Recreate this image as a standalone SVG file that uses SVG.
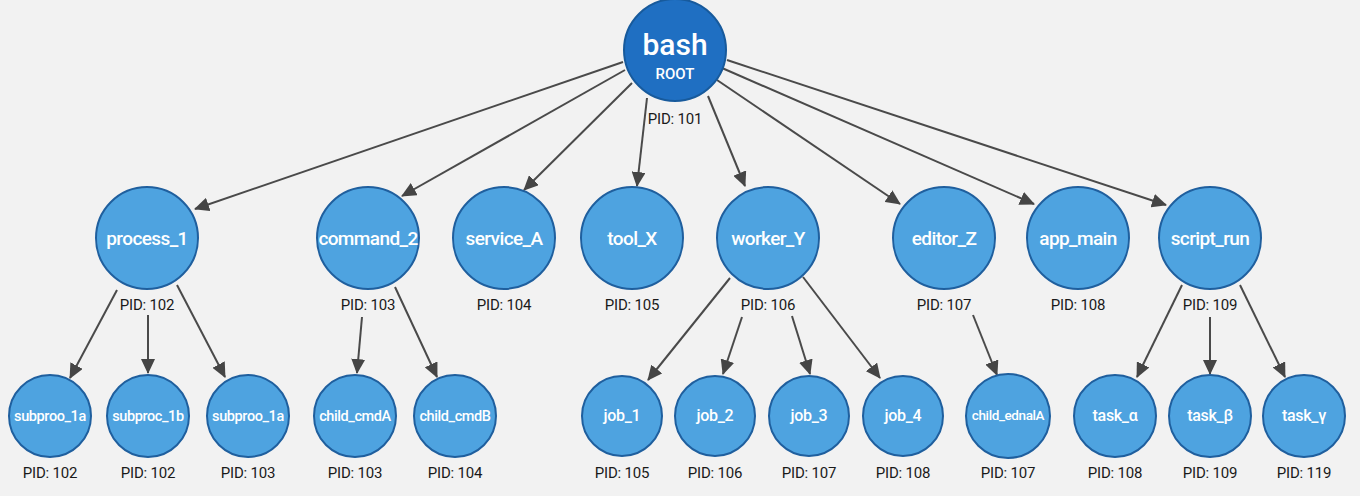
<svg xmlns="http://www.w3.org/2000/svg" width="1360" height="496" viewBox="0 0 1360 496">
<defs>
<marker id="arr" markerUnits="userSpaceOnUse" markerWidth="16" markerHeight="14" refX="14" refY="7" orient="auto">
<path d="M0,0 L15,7 L0,14 z" fill="#454545"/>
</marker>
<style>
.n circle{fill:#4ea3e0;stroke:#1f5f9e;stroke-width:2}
.root circle{fill:#1f6fc2;stroke:#175a9c;stroke-width:2}
.lbl{font-family:Roboto,"Liberation Sans",sans-serif;font-weight:500;fill:#fff;text-anchor:middle}
.l2{font-size:19px;letter-spacing:-0.6px}
.l3{font-size:14.5px;letter-spacing:-0.4px}
.l4{font-size:16px;letter-spacing:-0.3px}
.pid{font-family:Roboto,"Liberation Sans",sans-serif;font-size:15px;fill:#1a1a1a;text-anchor:middle;letter-spacing:-0.2px}
#edges line{stroke:#4a4a4a;stroke-width:2;marker-end:url(#arr)}
</style>
</defs>
<rect width="1360" height="496" fill="#f2f2f2"/>
<g id="edges">
<line x1="623" y1="62" x2="195" y2="209"/>
<line x1="625" y1="70" x2="402" y2="196"/>
<line x1="632" y1="83" x2="524" y2="190"/>
<line x1="647" y1="98" x2="637" y2="186"/>
<line x1="708" y1="96" x2="745" y2="186"/>
<line x1="717" y1="80" x2="900" y2="204"/>
<line x1="722" y1="68" x2="1034" y2="204"/>
<line x1="727" y1="60" x2="1166" y2="205"/>
<line x1="117" y1="290" x2="70" y2="378"/>
<line x1="148" y1="315" x2="148" y2="373"/>
<line x1="177" y1="285" x2="225" y2="377"/>
<line x1="362" y1="317" x2="357" y2="373"/>
<line x1="395" y1="287" x2="437" y2="377"/>
<line x1="730" y1="278" x2="648" y2="380"/>
<line x1="742" y1="317" x2="723" y2="374"/>
<line x1="792" y1="316" x2="810" y2="374"/>
<line x1="803" y1="277" x2="880" y2="378"/>
<line x1="973" y1="315" x2="997" y2="375"/>
<line x1="1182" y1="285" x2="1137" y2="377"/>
<line x1="1210" y1="317" x2="1210" y2="374"/>
<line x1="1240" y1="285" x2="1285" y2="377"/>
</g>
<g id="bash" class="root"><circle cx="675" cy="50" r="51"/><text class="lbl" x="675" y="55" font-size="30">bash</text><text class="lbl" x="675" y="79" font-size="15">ROOT</text><text class="pid" x="675" y="124">PID: 101</text></g>
<g id="process_1" class="n"><circle cx="147" cy="238" r="51"/><text class="lbl l2" x="147" y="245">process_1</text><text class="pid" x="147" y="310">PID: 102</text></g>
<g id="command_2" class="n"><circle cx="368" cy="238" r="51"/><text class="lbl l2" x="368" y="245">command_2</text><text class="pid" x="368" y="310">PID: 103</text></g>
<g id="service_A" class="n"><circle cx="504" cy="238" r="51"/><text class="lbl l2" x="504" y="245">service_A</text><text class="pid" x="504" y="310">PID: 104</text></g>
<g id="tool_X" class="n"><circle cx="632" cy="238" r="51"/><text class="lbl l2" x="632" y="245">tool_X</text><text class="pid" x="632" y="310">PID: 105</text></g>
<g id="worker_Y" class="n"><circle cx="768" cy="238" r="51"/><text class="lbl l2" x="768" y="245">worker_Y</text><text class="pid" x="768" y="310">PID: 106</text></g>
<g id="editor_Z" class="n"><circle cx="944" cy="238" r="51"/><text class="lbl l2" x="944" y="245">editor_Z</text><text class="pid" x="944" y="310">PID: 107</text></g>
<g id="app_main" class="n"><circle cx="1078" cy="238" r="51"/><text class="lbl l2" x="1078" y="245">app_main</text><text class="pid" x="1078" y="310">PID: 108</text></g>
<g id="script_run" class="n"><circle cx="1210" cy="238" r="51"/><text class="lbl l2" x="1210" y="245">script_run</text><text class="pid" x="1210" y="310">PID: 109</text></g>
<g id="subproc_1a_1" class="n"><circle cx="50" cy="416" r="41"/><text class="lbl l3" x="50" y="421">subproo_1a</text><text class="pid" x="50" y="478">PID: 102</text></g>
<g id="subproc_1b" class="n"><circle cx="148" cy="416" r="41"/><text class="lbl l3" x="148" y="421">subproc_1b</text><text class="pid" x="148" y="478">PID: 102</text></g>
<g id="subproc_1a_2" class="n"><circle cx="248" cy="416" r="41"/><text class="lbl l3" x="248" y="421">subproo_1a</text><text class="pid" x="248" y="478">PID: 103</text></g>
<g id="child_cmdA" class="n"><circle cx="355" cy="416" r="41"/><text class="lbl l3" x="355" y="421">child_cmdA</text><text class="pid" x="355" y="478">PID: 103</text></g>
<g id="child_cmdB" class="n"><circle cx="455" cy="416" r="41"/><text class="lbl l3" x="455" y="421">child_cmdB</text><text class="pid" x="455" y="478">PID: 104</text></g>
<g id="job_1" class="n"><circle cx="622" cy="416" r="40"/><text class="lbl l4" x="622" y="421">job_1</text><text class="pid" x="622" y="478">PID: 105</text></g>
<g id="job_2" class="n"><circle cx="715" cy="416" r="40"/><text class="lbl l4" x="715" y="421">job_2</text><text class="pid" x="715" y="478">PID: 106</text></g>
<g id="job_3" class="n"><circle cx="809" cy="416" r="40"/><text class="lbl l4" x="809" y="421">job_3</text><text class="pid" x="809" y="478">PID: 107</text></g>
<g id="job_4" class="n"><circle cx="903" cy="416" r="40"/><text class="lbl l4" x="903" y="421">job_4</text><text class="pid" x="903" y="478">PID: 108</text></g>
<g id="child_ednalA" class="n"><circle cx="1008" cy="416" r="42"/><text class="lbl" font-size="13.5" letter-spacing="-0.4" x="1008" y="420">child_ednalA</text><text class="pid" x="1008" y="478">PID: 107</text></g>
<g id="task_a" class="n"><circle cx="1115" cy="416" r="41"/><text class="lbl l4" x="1115" y="421">task_α</text><text class="pid" x="1115" y="478">PID: 108</text></g>
<g id="task_b" class="n"><circle cx="1210" cy="416" r="41"/><text class="lbl l4" x="1210" y="421">task_β</text><text class="pid" x="1210" y="478">PID: 109</text></g>
<g id="task_g" class="n"><circle cx="1304" cy="416" r="41"/><text class="lbl l4" x="1304" y="421">task_γ</text><text class="pid" x="1304" y="478">PID: 119</text></g>
</svg>
